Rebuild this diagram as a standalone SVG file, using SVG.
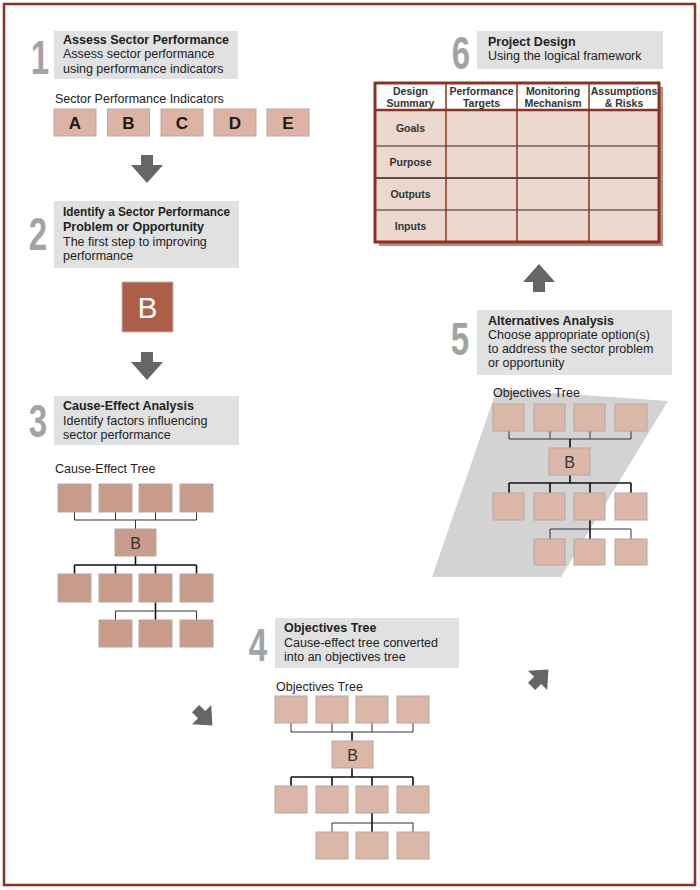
<svg xmlns="http://www.w3.org/2000/svg" width="700" height="890" viewBox="0 0 700 890">
<style>
text{font-family:"Liberation Sans",Arial,sans-serif;fill:#222}
.t{font-size:12.5px;font-weight:bold}
.s{font-size:12.5px}
.num{font-size:46px;font-weight:bold;fill:#a3a3a3}
.gb{fill:#e1e1e1}
.ind{fill:#dcb3a4;stroke:#b9a9a3;stroke-width:1}
.ind-l{font-size:17px;font-weight:bold;text-anchor:middle;fill:#1a1a1a}
.n3{fill:#c99b8b;stroke:#b3a7a3;stroke-width:1}
.n4{fill:#dcb6a7;stroke:#b3a7a3;stroke-width:1}
.bl{font-size:16px;text-anchor:middle;fill:#333}
.c1{stroke:#333;stroke-width:1;fill:none}
.c2{stroke:#111;stroke-width:1.6;fill:none}
.arr{fill:#666}
.th{font-size:10.5px;font-weight:bold;text-anchor:middle;fill:#333}
.rl{font-size:10.5px;font-weight:bold;text-anchor:middle;fill:#333}
</style>
<defs>
<path id="ar" d="M-6,-14 H6 V-4 H16 L0,14 L-16,-4 H-6 Z"/>
</defs>
<rect x="4" y="4" width="691" height="881" fill="#fff" stroke="#8b3222" stroke-width="2.5"/>

<!-- Step 1 -->
<g id="step1">
<text class="num" transform="translate(40,74) scale(0.72,1.05)" text-anchor="middle">1</text>
<rect class="gb" x="54" y="31" width="184" height="48"/>
<text class="t" x="63" y="44">Assess Sector Performance</text>
<text class="s" x="63" y="58">Assess sector performance</text>
<text class="s" x="63" y="73">using performance indicators</text>
<text class="s" x="55" y="103">Sector Performance Indicators</text>
</g>
<g id="indA"><rect class="ind" x="54" y="109" width="42" height="27"/><text class="ind-l" x="75" y="129">A</text></g>
<g id="indB"><rect class="ind" x="107.5" y="109" width="42" height="27"/><text class="ind-l" x="128.5" y="129">B</text></g>
<g id="indC"><rect class="ind" x="161" y="109" width="42" height="27"/><text class="ind-l" x="182" y="129">C</text></g>
<g id="indD"><rect class="ind" x="214" y="109" width="42" height="27"/><text class="ind-l" x="235" y="129">D</text></g>
<g id="indE"><rect class="ind" x="267" y="109" width="42" height="27"/><text class="ind-l" x="288" y="129">E</text></g>

<!-- Step 2 -->
<g id="step2">
<text class="num" transform="translate(38,250) scale(0.72,1)" text-anchor="middle">2</text>
<rect class="gb" x="54" y="201" width="185" height="67"/>
<text class="t" x="63" y="216" textLength="167" lengthAdjust="spacingAndGlyphs">Identify a Sector Performance</text>
<text class="t" x="63" y="231">Problem or Opportunity</text>
<text class="s" x="63" y="246">The first step to improving</text>
<text class="s" x="63" y="260">performance</text>
</g>
<g id="problemB">
<rect x="122" y="282" width="51" height="50" fill="#ad5e48" stroke="#c9b5ae" stroke-width="1"/>
<text x="147.5" y="318" font-size="30" text-anchor="middle" style="fill:#fff">B</text>
</g>

<!-- Step 3 -->
<g id="step3">
<text class="num" transform="translate(38,437) scale(0.72,1)" text-anchor="middle">3</text>
<rect class="gb" x="54" y="396" width="185" height="49"/>
<text class="t" x="63" y="410">Cause-Effect Analysis</text>
<text class="s" x="63" y="425">Identify factors influencing</text>
<text class="s" x="63" y="439">sector performance</text>
<text class="s" x="55" y="473">Cause-Effect Tree</text>
</g>
<g id="tree3" transform="translate(58,484)">
<g id="connectors3">
<path class="c1" d="M16.5,28 V36 M57.5,28 V36 M97.5,28 V36 M138.5,28 V36 M16.5,36 H138.5 M77.5,36 V45"/>
<path class="c2" d="M77.5,72 V81 M16.5,81 H138.5 M16.5,81 V90 M57.5,81 V90 M97.5,81 V90 M138.5,81 V90 M97.5,118 V127"/>
<path class="c1" d="M57.5,127 H138.5 M57.5,127 V136 M138.5,127 V136"/>
<path class="c2" d="M97.5,127 V136"/>
</g>
<g id="t3a1"><rect class="n3" x="0" y="0" width="33" height="28"/></g>
<g id="t3a2"><rect class="n3" x="41" y="0" width="33" height="28"/></g>
<g id="t3a3"><rect class="n3" x="81" y="0" width="33" height="28"/></g>
<g id="t3a4"><rect class="n3" x="122" y="0" width="33" height="28"/></g>
<g id="t3B"><rect class="n3" x="57" y="45" width="41" height="27"/><text class="bl" x="77.5" y="65">B</text></g>
<g id="t3c1"><rect class="n3" x="0" y="90" width="33" height="28"/></g>
<g id="t3c2"><rect class="n3" x="41" y="90" width="33" height="28"/></g>
<g id="t3c3"><rect class="n3" x="81" y="90" width="33" height="28"/></g>
<g id="t3c4"><rect class="n3" x="122" y="90" width="33" height="28"/></g>
<g id="t3d1"><rect class="n3" x="41" y="136" width="33" height="27"/></g>
<g id="t3d2"><rect class="n3" x="81" y="136" width="33" height="27"/></g>
<g id="t3d3"><rect class="n3" x="122" y="136" width="33" height="27"/></g>
</g>

<!-- Step 4 -->
<g id="step4">
<text class="num" transform="translate(258,661) scale(0.72,1)" text-anchor="middle">4</text>
<rect class="gb" x="275" y="618" width="184" height="50"/>
<text class="t" x="284" y="632">Objectives Tree</text>
<text class="s" x="284" y="647">Cause-effect tree converted</text>
<text class="s" x="284" y="661">into an objectives tree</text>
<text class="s" x="276" y="691">Objectives Tree</text>
</g>
<g id="tree4" transform="translate(275,696)">
<g id="connectors4">
<path class="c1" d="M16,27 V36 M57,27 V36 M97,27 V36 M138,27 V36 M16,36 H138"/>
<path class="c2" d="M77,36 V45 M77,72 V81 M16,81 H138 M16,81 V90 M57,81 V90 M97,81 V90 M138,81 V90 M97,117 V127"/>
<path class="c1" d="M57,127 H138 M57,127 V136 M138,127 V136"/>
<path class="c2" d="M97,127 V136"/>
</g>
<g id="t4a1"><rect class="n4" x="0" y="0" width="32" height="27"/></g>
<g id="t4a2"><rect class="n4" x="41" y="0" width="32" height="27"/></g>
<g id="t4a3"><rect class="n4" x="81" y="0" width="32" height="27"/></g>
<g id="t4a4"><rect class="n4" x="122" y="0" width="32" height="27"/></g>
<g id="t4B"><rect class="n4" x="57" y="45" width="41" height="27"/><text class="bl" x="77.5" y="65">B</text></g>
<g id="t4c1"><rect class="n4" x="0" y="90" width="32" height="27"/></g>
<g id="t4c2"><rect class="n4" x="41" y="90" width="32" height="27"/></g>
<g id="t4c3"><rect class="n4" x="81" y="90" width="32" height="27"/></g>
<g id="t4c4"><rect class="n4" x="122" y="90" width="32" height="27"/></g>
<g id="t4d1"><rect class="n4" x="41" y="136" width="32" height="27"/></g>
<g id="t4d2"><rect class="n4" x="81" y="136" width="32" height="27"/></g>
<g id="t4d3"><rect class="n4" x="122" y="136" width="32" height="27"/></g>
</g>

<!-- Step 5 -->
<polygon id="highlight" points="497,389 668,401 561,577 432,577" fill="#d3d3d3"/>
<g id="step5">
<text class="num" transform="translate(460,355) scale(0.72,1)" text-anchor="middle">5</text>
<rect class="gb" x="477" y="310" width="195" height="65"/>
<text class="t" x="488" y="325">Alternatives Analysis</text>
<text class="s" x="488" y="339">Choose appropriate option(s)</text>
<text class="s" x="488" y="353">to address the sector problem</text>
<text class="s" x="488" y="367">or opportunity</text>
<text class="s" x="493" y="397">Objectives Tree</text>
</g>
<g id="tree5" transform="translate(493,404)">
<g id="connectors5">
<path class="c1" d="M16,27 V35 M57,27 V35 M97,27 V35 M138,27 V35 M16,35 H138"/>
<path class="c2" d="M77,35 V44 M77,71 V79 M16,79 H138 M16,79 V89 M57,79 V89 M97,79 V89 M138,79 V89 M97,116 V125"/>
<path class="c1" d="M57,125 H138 M57,125 V135 M138,125 V135"/>
<path class="c2" d="M97,125 V135"/>
</g>
<g id="t5a1"><rect class="n4" x="0" y="0" width="31" height="27"/></g>
<g id="t5a2"><rect class="n4" x="41" y="0" width="31" height="27"/></g>
<g id="t5a3"><rect class="n4" x="81" y="0" width="31" height="27"/></g>
<g id="t5a4"><rect class="n4" x="122" y="0" width="32" height="27"/></g>
<g id="t5B"><rect class="n4" x="56" y="44" width="41" height="27"/><text class="bl" x="76.5" y="64">B</text></g>
<g id="t5c1"><rect class="n4" x="0" y="89" width="31" height="27"/></g>
<g id="t5c2"><rect class="n4" x="41" y="89" width="31" height="27"/></g>
<g id="t5c3"><rect class="n4" x="81" y="89" width="31" height="27"/></g>
<g id="t5c4"><rect class="n4" x="122" y="89" width="32" height="27"/></g>
<g id="t5d1"><rect class="n4" x="41" y="135" width="31" height="26"/></g>
<g id="t5d2"><rect class="n4" x="81" y="135" width="31" height="26"/></g>
<g id="t5d3"><rect class="n4" x="122" y="135" width="32" height="26"/></g>
</g>

<!-- Step 6 -->
<g id="step6">
<text class="num" transform="translate(461,69) scale(0.72,1)" text-anchor="middle">6</text>
<rect class="gb" x="477" y="31" width="186" height="38"/>
<text class="t" x="488" y="46">Project Design</text>
<text class="s" x="488" y="60">Using the logical framework</text>
</g>
<g id="logframe">
<rect x="379" y="87" width="284" height="159" fill="#b98a7e"/>
<rect x="375" y="83" width="284" height="159" fill="#ecd8cf"/>
<rect x="375" y="83" width="284" height="27" fill="#fff"/>
<path d="M375,146 H659 M375,210 H659" stroke="#666" stroke-width="1.5"/>
<path d="M375,178 H659" stroke="#222" stroke-width="1.5"/>
<path d="M375,110 H659" stroke="#8b3222" stroke-width="2.5"/>
<path d="M446,83 V242 M517,83 V242 M589,83 V242" stroke="#8b3222" stroke-width="1.5"/>
<rect x="375" y="83" width="284" height="159" fill="none" stroke="#8b3222" stroke-width="3"/>
<text class="th" x="410.5" y="95">Design</text>
<text class="th" x="410.5" y="107">Summary</text>
<text class="th" x="481.5" y="95">Performance</text>
<text class="th" x="481.5" y="107">Targets</text>
<text class="th" x="553" y="95">Monitoring</text>
<text class="th" x="553" y="107">Mechanism</text>
<text class="th" x="624" y="95">Assumptions</text>
<text class="th" x="624" y="107">&amp; Risks</text>
<text class="rl" x="410.5" y="132">Goals</text>
<text class="rl" x="410.5" y="166">Purpose</text>
<text class="rl" x="410.5" y="198">Outputs</text>
<text class="rl" x="410.5" y="230">Inputs</text>
</g>

<!-- Flow arrows -->
<g id="flow-arrows" class="arr">
<use href="#ar" transform="translate(147,169)"/>
<use href="#ar" transform="translate(147,366)"/>
<use href="#ar" transform="translate(204,717) rotate(-45) scale(0.85)"/>
<use href="#ar" transform="translate(540,678) rotate(-135) scale(0.85)"/>
<use href="#ar" transform="translate(539,278) rotate(180)"/>
</g>
</svg>
